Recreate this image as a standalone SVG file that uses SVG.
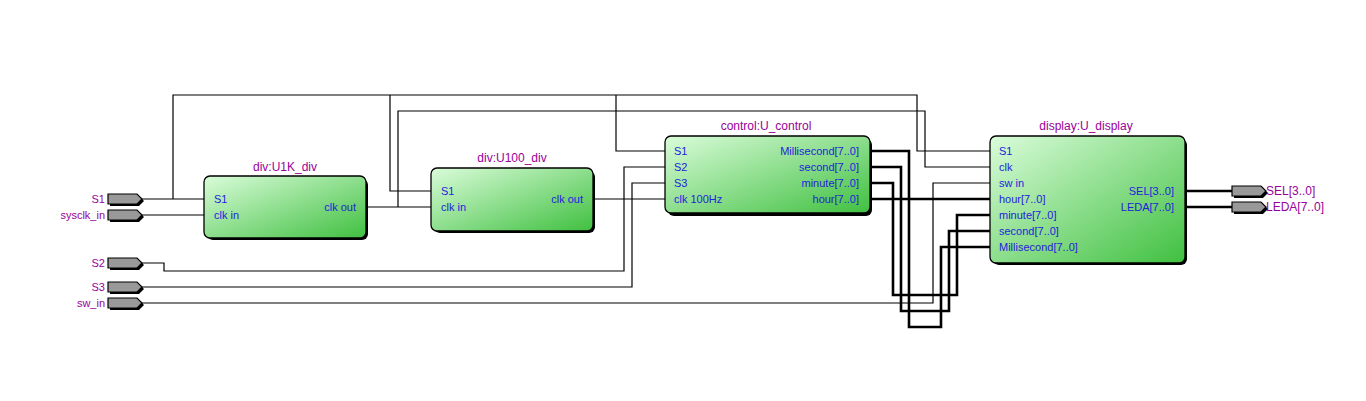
<svg xmlns="http://www.w3.org/2000/svg" width="1366" height="401" viewBox="0 0 1366 401">
<defs>
<linearGradient id="g" x1="0" y1="0" x2="1" y2="1">
<stop offset="0" stop-color="#dafcda"/><stop offset="1" stop-color="#40c040"/>
</linearGradient>
<polygon id="pin" points="0,-5 29,-5 34,0 29,5 0,5"/>
</defs>
<style>
text{font-family:"Liberation Sans",Arial,sans-serif;font-size:11px}
.p{fill:#2222dd}
.t{fill:#990099;font-size:12px}
.box{fill:url(#g);stroke:#000;stroke-width:1.3}
.sh{fill:#000}
.w{fill:none;stroke:#000;stroke-width:1.2}
.b{fill:none;stroke:#000;stroke-width:2.6}
.pin{fill:#999;stroke:#000;stroke-width:1.2}
</style>
<rect width="1366" height="401" fill="#fff"/>
<g id="connectors">
<path class="w" d="M142,199H204M173,199V95H917V151H990M390,95V191H431M616,95V151H665"/>
<path class="w" d="M142,215H204M366,207H431M398,207V111H925V167H990M593,199H665"/>
<path class="w" d="M142,263H164V271H624V167H665M142,287H632V183H665M142,303H933V183H990"/>
<path class="b" d="M870,151H909V327H941V247H990M870,167H901V311H949V231H990M870,183H893V295H957V215H990M870,199H990M1185,191H1232M1185,207H1232"/>
</g>
<g id="pins">
<use href="#pin" x="110" y="201" class="sh"/><use href="#pin" x="108" y="199" class="pin"/>
<use href="#pin" x="110" y="217" class="sh"/><use href="#pin" x="108" y="215" class="pin"/>
<use href="#pin" x="110" y="265" class="sh"/><use href="#pin" x="108" y="263" class="pin"/>
<use href="#pin" x="110" y="289" class="sh"/><use href="#pin" x="108" y="287" class="pin"/>
<use href="#pin" x="110" y="305" class="sh"/><use href="#pin" x="108" y="303" class="pin"/>
<use href="#pin" x="1234" y="193" class="sh"/><use href="#pin" x="1232" y="191" class="pin"/>
<use href="#pin" x="1234" y="209" class="sh"/><use href="#pin" x="1232" y="207" class="pin"/>
<g class="t" text-anchor="end">
<text x="105" y="203">S1</text><text x="105" y="219">sysclk_in</text><text x="105" y="267">S2</text><text x="105" y="291">S3</text><text x="105" y="307">sw_in</text>
</g>
<text class="t" x="1266" y="195">SEL[3..0]</text><text class="t" x="1266" y="211">LEDA[7..0]</text>
</g>
<g id="U1K_div">
<rect x="207" y="179" width="161" height="61" rx="6" class="sh"/>
<rect x="204" y="176" width="162" height="62" rx="6" class="box"/>
<text class="t" x="285" y="171" text-anchor="middle">div:U1K_div</text>
<text class="p" x="214" y="203">S1</text><text class="p" x="214" y="219">clk  in</text>
<text class="p" x="356" y="211" text-anchor="end">clk  out</text>
</g>
<g id="U100_div">
<rect x="434" y="171" width="161" height="62" rx="6" class="sh"/>
<rect x="431" y="168" width="162" height="63" rx="6" class="box"/>
<text class="t" x="512" y="162" text-anchor="middle">div:U100_div</text>
<text class="p" x="441" y="195">S1</text><text class="p" x="441" y="211">clk  in</text>
<text class="p" x="583" y="203" text-anchor="end">clk  out</text>
</g>
<g id="U_control">
<rect x="668" y="139" width="204" height="77" rx="6" class="sh"/>
<rect x="665" y="136" width="205" height="77" rx="6" class="box"/>
<text class="t" x="766" y="130" text-anchor="middle">control:U_control</text>
<text class="p" x="674" y="155">S1</text><text class="p" x="674" y="171">S2</text><text class="p" x="674" y="187">S3</text><text class="p" x="674" y="203">clk  100Hz</text>
<g class="p" text-anchor="end"><text x="859" y="155">Millisecond[7..0]</text><text x="859" y="171">second[7..0]</text><text x="859" y="187">minute[7..0]</text><text x="859" y="203">hour[7..0]</text></g>
</g>
<g id="U_display">
<rect x="993" y="139" width="194" height="126" rx="6" class="sh"/>
<rect x="990" y="136" width="195" height="127" rx="6" class="box"/>
<text class="t" x="1086" y="130" text-anchor="middle">display:U_display</text>
<text class="p" x="999" y="155">S1</text><text class="p" x="999" y="171">clk</text><text class="p" x="999" y="187">sw  in</text><text class="p" x="999" y="203">hour[7..0]</text><text class="p" x="999" y="219">minute[7..0]</text><text class="p" x="999" y="235">second[7..0]</text><text class="p" x="999" y="251">Millisecond[7..0]</text>
<g class="p" text-anchor="end"><text x="1174" y="195">SEL[3..0]</text><text x="1174" y="211">LEDA[7..0]</text></g>
</g>
</svg>
